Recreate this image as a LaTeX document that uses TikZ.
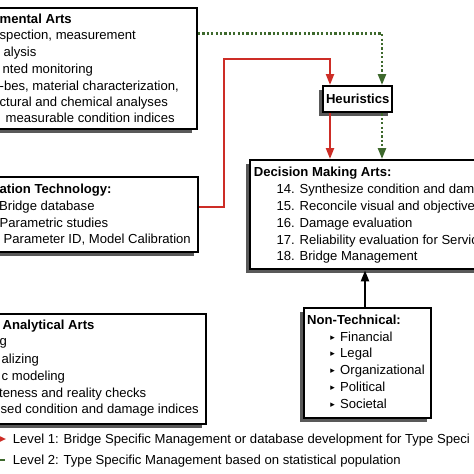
\documentclass[tikz,border=0pt]{standalone}
\usepackage{fontspec}
\setmainfont{Liberation Sans}
\newfontfamily\symf{DejaVu Sans}
\usetikzlibrary{arrows.meta,shadows}
\definecolor{lred}{RGB}{205,45,38}
\definecolor{lgreen}{RGB}{62,105,45}
\begin{document}
\begin{tikzpicture}[x=1pt,y=-1pt,
  box/.style={draw=black, line width=2.4pt, fill=white, rectangle, inner sep=0pt, anchor=north west,
    drop shadow={shadow xshift=-4.5pt, shadow yshift=-4pt, fill=black!65, opacity=1}},
  txt/.style={anchor=base west, inner sep=0pt, font=\fontsize{13.1}{15}\selectfont},
  hdr/.style={anchor=base west, inner sep=0pt, font=\fontsize{13.1}{15}\selectfont\bfseries},
  redarrow/.style={draw=lred, line width=2.2pt, -{Triangle[width=8pt,length=11pt]}},
  greenarrow/.style={draw=lgreen, line width=2.4pt, dash pattern=on 2.2pt off 2.2pt, -{Triangle[width=8pt,length=11pt]}},
  blackarrow/.style={draw=black, line width=2.2pt, -{Triangle[width=8pt,length=11pt]}},
  bul/.style={anchor=base, inner sep=0pt, font=\symf\fontsize{9}{10}\selectfont}
]
\useasboundingbox (0,0) rectangle (474,474);
\clip (0,0) rectangle (474,474);

% boxes
\node[box, minimum width=215.5pt, minimum height=121pt] (exp) at (-20,7) {};
\node[box, minimum width=217pt, minimum height=75pt] (it) at (-20,176) {};
\node[box, minimum width=225pt, minimum height=110pt] (ana) at (-20,313) {};
\node[box, minimum width=69pt, minimum height=26pt, font=\fontsize{13.1}{15}\selectfont\bfseries] (heur) at (322,85) {Heuristics};
\node[box, minimum width=251pt, minimum height=109pt] (dec) at (249,159) {};
\node[box, minimum width=127pt, minimum height=110pt] (nt) at (303,307) {};

% top-left box text
\node[hdr] (e0) at (-0.5,23) {mental Arts};
\node[txt] (e1) at (-0.5,39.5) {spection, measurement};
\node[txt] (e2) at (3.5,56.5) {alysis};
\node[txt] (e3) at (2.5,73.5) {nted monitoring};
\node[txt] (e4) at (-0.5,90.5) {-bes, material characterization,};
\node[txt] (e5) at (-0.5,106.5) {ctural and chemical analyses};
\node[txt] (e6) at (5.5,122) {measurable condition indices};

% information technology box text
\node[hdr] (i0) at (-0.5,193.5) {ation Technology:};
\node[txt] (i1) at (-1,210.5) {Bridge database};
\node[txt] (i2) at (-0.5,227) {Parametric studies};
\node[txt] (i3) at (3.5,243.5) {Parameter ID, Model Calibration};

% analytical box text
\node[hdr] (a0) at (2.5,329) {Analytical Arts};
\node[txt] (a1) at (-0.5,345) {g};
\node[txt] (a2) at (1.5,363) {alizing};
\node[txt] (a3) at (1.5,380.5) {c modeling};
\node[txt] (a4) at (-1,397) {teness and reality checks};
\node[txt] (a5) at (0.5,413) {sed condition and damage indices};

% decision box text
\node[hdr] (d0) at (253.7,176) {Decision Making Arts:};
\node[txt] (d1) at (276.3,193.3) {14. Synthesize condition and dam};
\node[txt] (d2) at (276.3,210.5) {15. Reconcile visual and objective};
\node[txt] (d3) at (276.3,227) {16. Damage evaluation};
\node[txt] (d4) at (276.3,244) {17. Reliability evaluation for Servic};
\node[txt] (d5) at (276.3,260.7) {18. Bridge Management};

% non-technical box text
\node[hdr] (n0) at (307,324) {Non-Technical:};
\foreach \t/\y/\n in {Financial/341.5/1, Legal/357.5/2, Organizational/374/3, Political/391/4, Societal/408/5}{
  \node[bul] (nb\n) at (332.7,\y-1) {▸};
  \node[txt] (n\n) at (340,\y) {\t};
}

% connectors
\draw[redarrow] (it.east |- 0,207) -| (224,59) -| (heur.north -| 330,0);
\draw[redarrow] (heur.south -| 330,0) -- (dec.north -| 330,0);
\draw[greenarrow] (exp.east |- 0,33.5) -| (heur.north -| 382,0);
\draw[greenarrow] (heur.south -| 382,0) -- (dec.north -| 382,0);
\draw[blackarrow] (nt.north -| 365,0) -- (dec.south -| 365,0);

% legend
\coordinate (l1s) at (-6,439);
\coordinate (l1e) at (6,439);
\coordinate (l2s) at (-3,460);
\coordinate (l2e) at (5,460);
\draw[draw=lred, line width=2pt, -{Triangle[width=5pt,length=6pt]}] (l1s) -- (l1e);
\draw[draw=lgreen, line width=2.4pt] (l2s) -- (l2e);
\node[txt] (leg1) at (12.7,443.3) {Level 1: Bridge Specific Management or database development for Type Speci};
\node[txt] (leg2) at (12.7,464.3) {Level 2: Type Specific Management based on statistical population};
\end{tikzpicture}
\end{document}
